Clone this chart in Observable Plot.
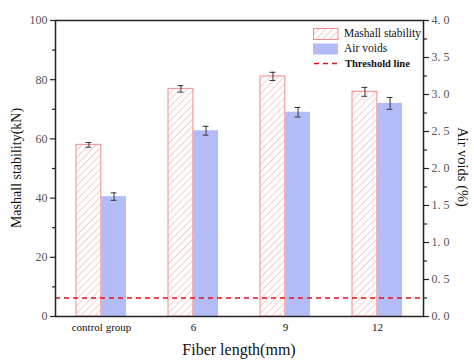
<!DOCTYPE html>
<html><head><meta charset="utf-8">
<script src="https://cdn.jsdelivr.net/npm/d3@7"></script>
<script src="https://cdn.jsdelivr.net/npm/@observablehq/plot@0.6"></script>
<style>
body{margin:0;background:#fff;}
#wrap{position:relative;width:474px;height:361px;font-family:"Liberation Serif","Times New Roman",serif;color:#111;}
.lab{position:absolute;white-space:nowrap;line-height:1;}
</style></head><body><div id="wrap"></div>
<script>
const categories = ["control group", "6", "9", "12"];
const stability = [58.0, 76.9, 81.1, 75.9];
const stabilityErr = [0.8, 1.1, 1.4, 1.5];
const airVoids = [1.62, 2.51, 2.76, 2.88];
const airVoidsErr = [0.05, 0.06, 0.065, 0.08];
const threshold = 0.25;
const leftTicks = [0, 20, 40, 60, 80, 100];
const leftMinor = [10, 30, 50, 70, 90];
const rightTicks = [0, 0.5, 1.0, 1.5, 2.0, 2.5, 3.0, 3.5, 4.0];
const rightMinor = [0.25, 0.75, 1.25, 1.75, 2.25, 2.75, 3.25, 3.75];
const ratio = 100 / 4; // left axis max / right axis max

const W = 474, H = 361, mL = 55, mR = 51, mT = 20, mB = 45;
const pIn = 0.457, pOut = 0.217;
const bw = d3.scaleBand().domain(categories).range([mL, W - mR]).paddingInner(pIn).paddingOuter(pOut).bandwidth();
const half = bw / 2, capW = 6;

const data = categories.map((c, i) => ({
  cat: c, stab: stability[i], stabErr: stabilityErr[i],
  air: airVoids[i] * ratio, airErr: airVoidsErr[i] * ratio
}));

const fmtR = d => d3.format(".1f")(d / ratio).replace(".", ". ");

const chart = Plot.plot({
  width: W, height: H, marginLeft: mL, marginRight: mR, marginTop: mT, marginBottom: mB,
  style: {fontFamily: '"Liberation Serif","Times New Roman",serif', fontSize: "12px", background: "white", overflow: "visible"},
  x: {domain: categories, paddingInner: pIn, paddingOuter: pOut, axis: null},
  y: {domain: [0, 100], axis: null},
  marks: [
    Plot.barY(data, {x: "cat", y: "stab", fill: "url(#hatch)", stroke: "#f28c8c", strokeWidth: 1, insetRight: half}),
    Plot.barY(data, {x: "cat", y: "air", fill: "#b4bcf8", insetLeft: half}),
    Plot.ruleX(data, {x: "cat", y1: d => d.stab - d.stabErr, y2: d => d.stab + d.stabErr, dx: -half / 2, stroke: "#333", strokeWidth: 1}),
    Plot.ruleX(data, {x: "cat", y1: d => d.air - d.airErr, y2: d => d.air + d.airErr, dx: half / 2, stroke: "#333", strokeWidth: 1}),
    Plot.tickY(data, {x: "cat", y: d => d.stab + d.stabErr, insetLeft: half / 2 - capW / 2, insetRight: bw - half / 2 - capW / 2, stroke: "#333"}),
    Plot.tickY(data, {x: "cat", y: d => d.stab - d.stabErr, insetLeft: half / 2 - capW / 2, insetRight: bw - half / 2 - capW / 2, stroke: "#333"}),
    Plot.tickY(data, {x: "cat", y: d => d.air + d.airErr, insetLeft: half + half / 2 - capW / 2, insetRight: half / 2 - capW / 2, stroke: "#333"}),
    Plot.tickY(data, {x: "cat", y: d => d.air - d.airErr, insetLeft: half + half / 2 - capW / 2, insetRight: half / 2 - capW / 2, stroke: "#333"}),
    Plot.ruleY([threshold * ratio], {stroke: "#e3111b", strokeWidth: 1.5, strokeDasharray: "5,4"}),
    Plot.frame({stroke: "#222", strokeWidth: 1.5}),
    Plot.axisY({anchor: "left", ticks: leftTicks, tickSize: 5, tickPadding: 3, label: null, stroke: "#222", fill: "#555", fontSize: 12, strokeWidth: 1.2}),
    Plot.axisY({anchor: "left", ticks: leftMinor, tickSize: 3, tickFormat: () => "", label: null, stroke: "#222", strokeWidth: 1.2}),
    Plot.axisY({anchor: "right", ticks: rightTicks.map(v => v * ratio), tickFormat: fmtR, tickSize: 5, tickPadding: 3, label: null, stroke: "#222", fill: "#555", fontSize: 12, strokeWidth: 1.2}),
    Plot.axisY({anchor: "right", ticks: rightMinor.map(v => v * ratio), tickSize: 3, tickFormat: () => "", label: null, stroke: "#222", strokeWidth: 1.2}),
    Plot.axisX({tickSize: 0, tickPadding: 7, fontSize: 11, label: null, fill: "#111"})
  ]
});

const ns = "http://www.w3.org/2000/svg";
const hatchDef = id => `<pattern id="${id}" patternUnits="userSpaceOnUse" width="5" height="5" patternTransform="rotate(45)">
    <rect width="5" height="5" fill="white"/><line x1="0" y1="0" x2="0" y2="5" stroke="#f5a0a0" stroke-width="1.1"/></pattern>`;
const defs = document.createElementNS(ns, "defs");
defs.innerHTML = hatchDef("hatch");
chart.insertBefore(defs, chart.firstChild);

const wrap = document.getElementById("wrap");
wrap.appendChild(chart);

function lab(text, css) {
  const d = document.createElement("div");
  d.className = "lab"; d.textContent = text;
  Object.assign(d.style, css);
  wrap.appendChild(d);
  return d;
}
lab("Mashall stability(kN)", {left: "17px", top: "168px", fontSize: "14px", transform: "translate(-50%,-50%) rotate(-90deg)"});
lab("Air voids (%)", {left: "463px", top: "167px", fontSize: "14.5px", transform: "translate(-50%,-50%) rotate(90deg)"});
lab("Fiber length(mm)", {left: "239px", top: "350px", fontSize: "16px", transform: "translate(-50%,-50%)"});

// legend
const leg = document.createElement("div");
leg.style.cssText = "position:absolute;left:313px;top:27px;";
leg.innerHTML = `
<svg width="110" height="44" style="position:absolute;left:0;top:0;overflow:visible">
  <defs>${hatchDef("hatchL")}</defs>
  <rect x="0.5" y="1.5" width="24.5" height="11" fill="url(#hatchL)" stroke="#f28c8c"/>
  <rect x="0" y="16.5" width="25" height="11" fill="#b4bcf8"/>
  <line x1="1" x2="25" y1="36.5" y2="36.5" stroke="#e3111b" stroke-width="1.5" stroke-dasharray="5,4"/>
</svg>`;
wrap.appendChild(leg);
lab("Mashall stability", {left: "344px", top: "34px", fontSize: "11.5px", transform: "translateY(-50%)"});
lab("Air voids", {left: "344px", top: "49px", fontSize: "11.5px", transform: "translateY(-50%)"});
lab("Threshold line", {left: "345px", top: "63.5px", fontSize: "10.5px", fontWeight: "bold", transform: "translateY(-50%)"});
</script></body></html>
